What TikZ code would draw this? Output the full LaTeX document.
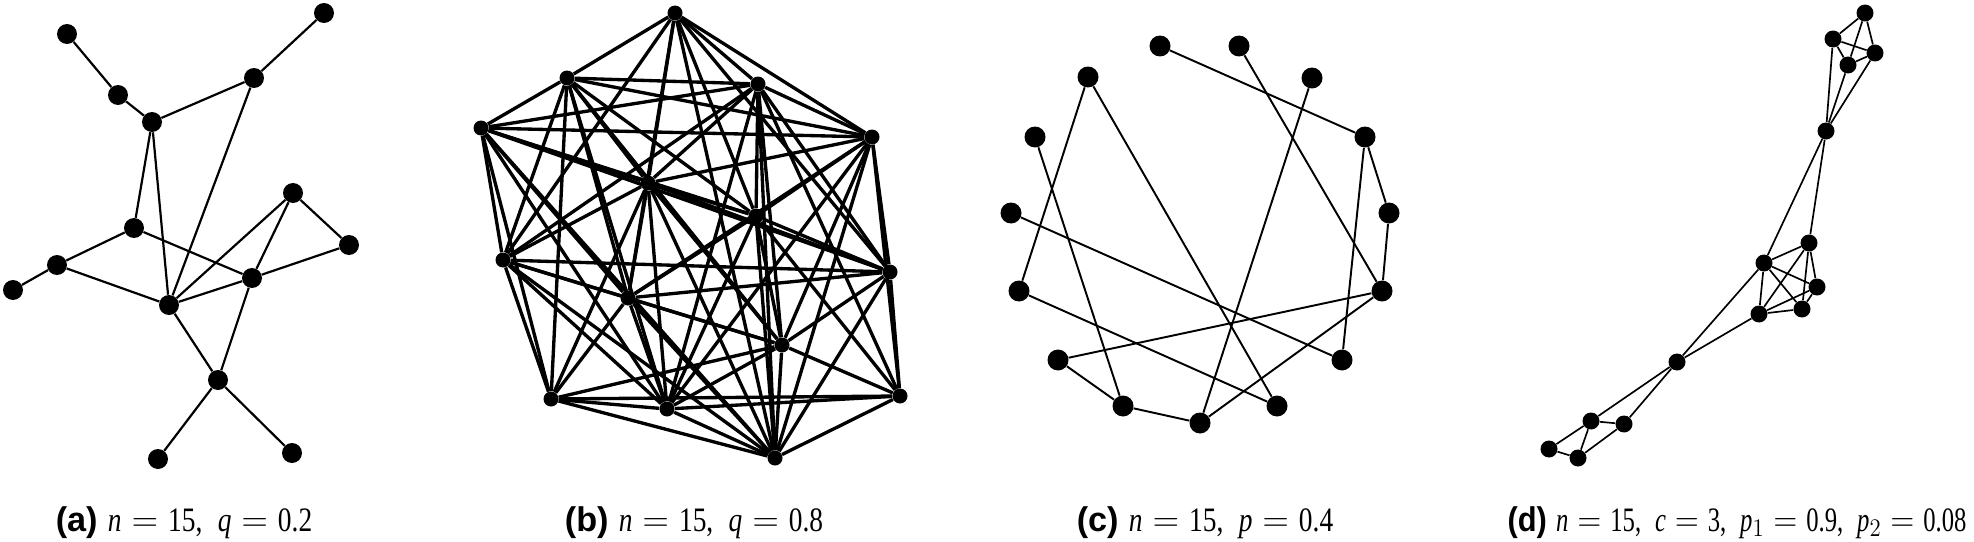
\documentclass[tikz,border=0pt]{standalone}
\usepackage{fontspec}
\setmainfont{Liberation Serif}[FakeStretch=0.8]
\newfontfamily\labfont{Liberation Sans}
\usetikzlibrary{positioning}
\newcommand{\iseq}{${}={}$}
\newcommand{\nxt}{,\hspace{0.45em}}
\newcommand{\sublabel}[1]{{\labfont\bfseries (#1)}\hspace{0.3em}}

\begin{document}
\begin{tikzpicture}[x=0.02cm, y=-0.02cm,
    dot/.style={circle, fill=black, inner sep=0pt},
    dota/.style={dot, minimum size=0.40cm},
    dotb/.style={dot, minimum size=0.30cm},
    dotc/.style={dot, minimum size=0.42cm},
    dotd/.style={dot, minimum size=0.34cm},
    edgea/.style={line width=1.25pt},
    edgeb/.style={line width=1.9pt},
    edgec/.style={line width=1.1pt},
    edged/.style={line width=0.95pt},
    caption/.style={anchor=base, font=\fontsize{19.5}{23}\selectfont}]

\useasboundingbox (0,0) rectangle (1974,541);

% (a) n = 15, q = 0.2
\foreach \n/\x/\y in {1/67/34, 2/324/13, 3/118/95, 4/254/78, 5/152/122,
    6/293/193, 7/134/228, 8/349/245, 9/57/265, 10/13/290, 11/169/305,
    12/252/278, 13/218/380, 14/158/459, 15/292/453}
  \node[dota] (a\n) at (\x,\y) {};
\foreach \s/\t in {1/3, 3/5, 5/4, 4/2, 5/7, 5/11, 4/11, 7/9, 7/12, 9/10,
    9/11, 11/6, 11/12, 11/13, 6/12, 6/8, 8/12, 12/13, 13/14, 13/15}
  \draw[edgea] (a\s) -- (a\t);

% (b) n = 15, q = 0.8
\foreach \n/\x/\y in {1/675/13, 2/567/78, 3/758/84, 4/481/128, 5/872/137,
    6/648/183, 7/756/216, 8/503/260, 9/890/272, 10/628/298, 11/782/345,
    12/551/399, 13/667/409, 14/900/396, 15/775/458}
  \node[dotb] (b\n) at (\x,\y) {};
\foreach \s/\others in {1/{2,3,5,6,7,8,9,10,15}, 2/{3,4,5,6,7,8,10,11,12,13},
    3/{4,5,6,7,8,9,11,13,14,15}, 4/{5,6,7,8,9,10,12,13,15},
    5/{6,7,9,10,11,13,14,15}, 6/{7,8,9,10,11,12,13,15},
    7/{9,10,11,13,14,15}, 8/{9,10,11,12,13,15}, 9/{10,11,14,15},
    10/{11,12,13,15}, 11/{12,13,14,15}, 12/{13,14,15}, 13/{14,15}, 14/{15}}
  \foreach \t in \others
    \draw[edgeb] (b\s) -- (b\t);

% (c) n = 15, p = 0.4
\foreach \n/\x/\y in {1/1160/46, 2/1239/46, 3/1088/77, 4/1312/78, 5/1035/137,
    6/1365/137, 7/1011/213, 8/1389/213, 9/1019/291, 10/1382/291,
    11/1058/360, 12/1342/360, 13/1123/406, 14/1277/406, 15/1200/423}
  \node[dotc] (c\n) at (\x,\y) {};
\foreach \s/\t in {1/6, 2/10, 4/15, 3/9, 3/14, 5/13, 7/12, 6/8, 6/12, 8/10,
    9/14, 11/10, 11/13, 13/15, 15/10}
  \draw[edgec] (c\s) -- (c\t);

% (d) n = 15, c = 3, p1 = 0.9, p2 = 0.08
\foreach \n/\x/\y in {1/1865/13, 2/1833/39, 3/1875/53, 4/1848/65, 5/1826/131,
    6/1809/243, 7/1764/263, 8/1817/287, 9/1802/309, 10/1759/314,
    11/1677/362, 12/1591/421, 13/1624/424, 14/1549/449, 15/1578/458}
  \node[dotd] (d\n) at (\x,\y) {};
\foreach \s/\t in {1/2, 1/3, 1/4, 2/3, 2/4, 3/4, 2/5, 3/5, 4/5, 5/6, 5/7,
    6/7, 6/8, 6/9, 6/10, 7/8, 7/9, 7/10, 8/9, 8/10, 9/10, 7/11, 10/11,
    11/12, 11/13, 12/13, 12/14, 12/15, 13/15, 14/15}
  \draw[edged] (d\s) -- (d\t);

% captions
\node[caption] (capa) at (184,531) {\sublabel{a}\textit{n}\iseq 15\nxt\textit{q}\iseq 0.2};
\node[caption] (capb) at (694,531) {\sublabel{b}\textit{n}\iseq 15\nxt\textit{q}\iseq 0.8};
\node[caption] (capc) at (1205,531) {\sublabel{c}\textit{n}\iseq 15\nxt\textit{p}\iseq 0.4};
\node[caption] (capd) at (1737,531) {\scalebox{0.9}[1]{\sublabel{d}\textit{n}\iseq 15\nxt\textit{c}\iseq 3\nxt\textit{p}$_1$\iseq 0.9\nxt\textit{p}$_2$\iseq 0.08}};
\end{tikzpicture}
\end{document}
